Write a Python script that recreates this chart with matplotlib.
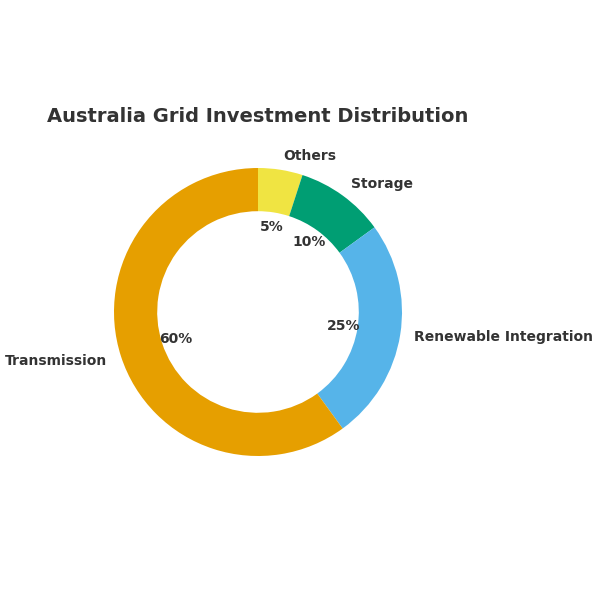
import matplotlib
matplotlib.use("Agg")
import matplotlib.pyplot as plt

categories = ["Others", "Storage", "Renewable Integration", "Transmission"]
values = [5, 10, 25, 60]
colors = ["#F0E442", "#009E73", "#56B4E9", "#E69F00"]
title = "Australia Grid Investment Distribution"

fig = plt.figure(figsize=(6, 6), dpi=100)
ax = fig.add_axes([0.13, 0.18, 0.6, 0.6])
wedges, texts, autotexts = ax.pie(
    values, labels=categories, colors=colors, startangle=90, counterclock=False,
    autopct="%1.0f%%", pctdistance=0.6, labeldistance=1.1,
    wedgeprops=dict(width=0.3, edgecolor="none"),
    textprops=dict(color="#333333", fontsize=10, fontweight="bold"))
ax.set_xlim(-1.25, 1.25)
ax.set_ylim(-1.25, 1.25)
ax.set_aspect("equal")
ax.set_title(title, fontsize=14, fontweight="bold", color="#333333", pad=7)
fig.savefig("out.png", dpi=100)
